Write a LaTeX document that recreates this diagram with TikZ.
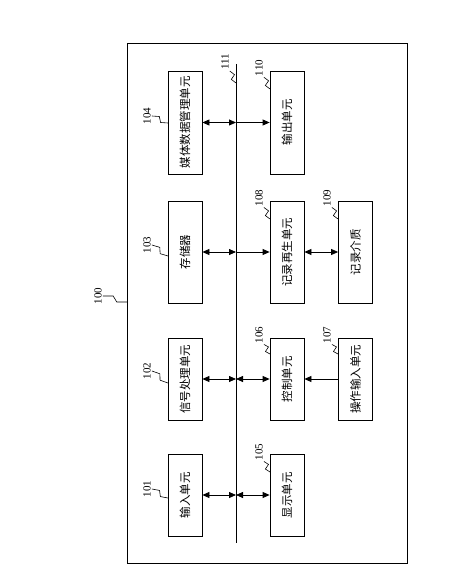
\documentclass[tikz,border=0pt]{standalone}
\usepackage{fontspec}
\setmainfont{Liberation Serif}
\newfontfamily\cjkfont{Noto Sans CJK SC}
\usetikzlibrary{arrows.meta,calc}

% small zigzag leader from a tag to its part
\newcommand{\zig}[2]{\draw[line width=0.6pt] (#1) -- ($(#1)!0.4!(#2)!2.5pt!90:(#2)$)
  -- ($(#1)!0.6!(#2)!2.5pt!-90:(#2)$) -- (#2);}

\begin{document}
\begin{tikzpicture}[x=1pt,y=-1pt,
  unit/.style={draw,line width=0.8pt,rotate=90,minimum height=34pt,inner sep=0pt,
               font=\cjkfont\fontsize{11.5}{13}\selectfont},
  tag/.style={rotate=90,inner sep=1pt,font=\fontsize{11}{13}\selectfont},
  link/.style={line width=0.8pt,{Triangle[length=7pt,width=6pt]}-{Triangle[length=7pt,width=6pt]}},
  feed/.style={line width=0.8pt,-{Triangle[length=7pt,width=6pt]}}]
  \useasboundingbox (0,0) rectangle (474,585);
  % device frame
  \draw[line width=1pt] (127,44) rectangle (407,563);
  % bus
  \coordinate (busTop) at (236,64);
  \coordinate (busBot) at (236,543);
  \draw[line width=1pt] (busTop) -- (busBot);
  % left column
  \node[unit,minimum width=103pt] (box104) at (185,122.5) {媒体数据管理单元};
  \node[unit,minimum width=102pt] (box103) at (185,252) {存储器};
  \node[unit,minimum width=82pt] (box102) at (185,379) {信号处理单元};
  \node[unit,minimum width=82pt] (box101) at (185,495) {输入单元};
  % middle column
  \node[unit,minimum width=103pt] (box110) at (287,122.5) {输出单元};
  \node[unit,minimum width=102pt] (box108) at (287,252) {记录再生单元};
  \node[unit,minimum width=82pt] (box106) at (287,379) {控制单元};
  \node[unit,minimum width=82pt] (box105) at (287,495) {显示单元};
  % right column
  \node[unit,minimum width=102pt] (box109) at (355.5,252) {记录介质};
  \node[unit,minimum width=82pt] (box107) at (355.5,379) {操作输入单元};
  % connections
  \draw[link] (box104.south) -- (box104.south -| busTop);
  \draw[feed] (box104.south -| busTop) -- (box110.north);
  \draw[link] (box103.south) -- (box103.south -| busTop);
  \draw[feed] (box103.south -| busTop) -- (box108.north);
  \draw[link] (box108.south) -- (box109.north);
  \draw[link] (box102.south) -- (box102.south -| busTop);
  \draw[link] (box102.south -| busTop) -- (box106.north);
  \draw[feed] (box107.north) -- (box106.south);
  \draw[link] (box101.south) -- (box101.south -| busTop);
  \draw[link] (box101.south -| busTop) -- (box105.north);
  % reference numerals
  \node[tag] (t100) at (98,296) {100};
  \node[tag] (t111) at (225,62) {111};
  \node[tag] (t110) at (259,68) {110};
  \node[tag] (t108) at (259,198) {108};
  \node[tag] (t109) at (327,198) {109};
  \node[tag] (t106) at (259,335) {106};
  \node[tag] (t107) at (327,335) {107};
  \node[tag] (t105) at (259,452) {105};
  \node[tag] (t104) at (147,116) {104};
  \node[tag] (t103) at (147,245) {103};
  \node[tag] (t102) at (147,371) {102};
  \node[tag] (t101) at (147,489) {101};
  \coordinate (e100) at (127,302);
  \coordinate (e111) at (236,83);
  \coordinate (e110) at (270,89);
  \coordinate (e108) at (270,219);
  \coordinate (e109) at (338,219);
  \coordinate (e106) at (270,354);
  \coordinate (e107) at (338,354);
  \coordinate (e105) at (270,472);
  \coordinate (e104) at (168,123);
  \coordinate (e103) at (168,256);
  \coordinate (e102) at (168,383);
  \coordinate (e101) at (168,498);
  \zig{t100.south}{e100}
  \foreach \n in {111,110,108,109,106,107,105}{\zig{t\n.south west}{e\n}}
  \foreach \n in {104,103,102,101}{\zig{t\n.south}{e\n}}
\end{tikzpicture}
\end{document}
